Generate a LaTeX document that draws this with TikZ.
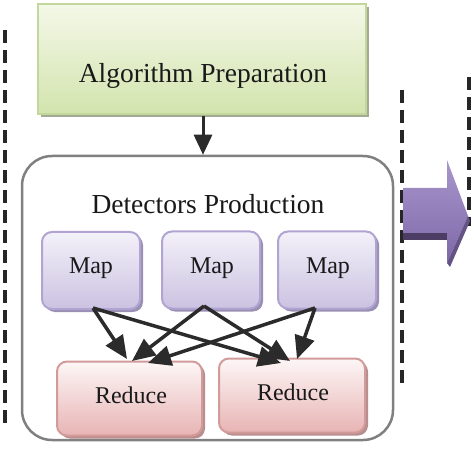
\documentclass[tikz,border=0pt]{standalone}
\usepackage{fontspec}
\setmainfont{Liberation Serif}
\usetikzlibrary{arrows.meta,shadows,calc}
\definecolor{gTop}{HTML}{F4F8E8}
\definecolor{gBot}{HTML}{D3E4AE}
\definecolor{gBorder}{HTML}{C3D69B}
\definecolor{gShadow}{HTML}{A4A994}
\definecolor{mTop}{HTML}{F3F1F9}
\definecolor{mBot}{HTML}{CBC2E1}
\definecolor{mBorder}{HTML}{B1A4D2}
\definecolor{mShadow}{HTML}{9A90B3}
\definecolor{rTop}{HTML}{FDF6F6}
\definecolor{rBot}{HTML}{E8B4B4}
\definecolor{rBorder}{HTML}{D39A9A}
\definecolor{rShadow}{HTML}{B88E8E}
\definecolor{contBorder}{HTML}{808080}
\definecolor{pTop}{HTML}{A896CC}
\definecolor{pBot}{HTML}{7E68A8}
\definecolor{pDark}{HTML}{4B3D63}
\definecolor{arrowCol}{HTML}{2B2B2B}
\tikzset{
  prepbox/.style={draw=gBorder, line width=2pt, top color=gTop, bottom color=gBot,
    minimum width=328pt, minimum height=110pt, inner sep=0pt,
    drop shadow={shadow xshift=3pt, shadow yshift=-3pt, fill=gShadow, opacity=1}},
  mapbox/.style={draw=mBorder, line width=2pt, top color=mTop, bottom color=mBot,
    rounded corners=10pt, minimum width=98pt, minimum height=77pt, inner sep=0pt,
    drop shadow={shadow xshift=3pt, shadow yshift=-3pt, fill=mShadow, opacity=1}},
  redbox/.style={draw=rBorder, line width=2pt, top color=rTop, bottom color=rBot,
    rounded corners=10pt, minimum height=74pt, inner sep=0pt,
    drop shadow={shadow xshift=3pt, shadow yshift=-3pt, fill=rShadow, opacity=1}},
  contbox/.style={draw=contBorder, line width=2.5pt, fill=white, rounded corners=30pt,
    minimum width=371pt, minimum height=284pt, inner sep=0pt},
  bigtxt/.style={font=\fontsize{27.5}{30}\selectfont, text=black!90, inner sep=0pt, anchor=base},
  boxtxt/.style={font=\fontsize{24}{26}\selectfont, text=black!90, inner sep=0pt, anchor=base},
  flow/.style={draw=arrowCol, line width=3pt, -{Triangle[length=20pt,width=18pt]}},
  mrflow/.style={draw=arrowCol, line width=3.5pt, -{Triangle[length=23pt,width=20pt]}},
  sep/.style={draw=black!85, line width=3.5pt, dash pattern=on 13pt off 7pt}
}
\begin{document}
\begin{tikzpicture}[x=1pt,y=-1pt]
\useasboundingbox (0,0) rectangle (474,449);
% dashed separators
\coordinate (l1) at (5,30); \coordinate (l2) at (5,424);
\coordinate (c1) at (402,90); \coordinate (c2) at (402,390);
\coordinate (r1) at (469,77); \coordinate (r2) at (469,226);
\draw[sep] (l1) -- (l2);
\draw[sep] (c1) -- (c2);
\draw[sep] (r1) -- (r2);
% purple arrow
\fill[pDark] (403,231) -- (447,231) -- (447,240) -- (403,240) -- cycle;
\shade[top color=pTop, bottom color=pBot] (403,188) -- (447,188) -- (447,160) -- (468,216) -- (447,263) -- (447,233) -- (403,233) -- cycle;
\fill[pBot!80!black] (468,216) -- (470,221) -- (450,267) -- (447,263) -- cycle;
% boxes
\node[prepbox] (prep) at (202,59) {};
\node[bigtxt] (preptxt) at (203,83) {Algorithm Preparation};
\node[contbox] (cont) at (207.5,298) {};
\node[bigtxt] (conttxt) at (208,214) {Detectors Production};
\node[mapbox] (map1) at (91,270.5) {};
\node[mapbox] (map2) at (211,270) {};
\node[mapbox] (map3) at (327,270) {};
\node[boxtxt] at (91,273) {Map};
\node[boxtxt] at (212,273) {Map};
\node[boxtxt] at (328,273) {Map};
\node[redbox, minimum width=145pt] (red1) at (129.5,398.5) {};
\node[redbox, minimum width=146pt] (red2) at (292,395.5) {};
\node[boxtxt] at (131,403) {Reduce};
\node[boxtxt] at (293,400) {Reduce};
% connectors
\coordinate (pa) at (203,116);
\draw[flow] (pa) -- (pa |- cont.north);
\coordinate (s1) at (93,308);
\coordinate (s2) at (204,306);
\coordinate (s3) at (315,308);
\coordinate (t11) at (127,359);
\coordinate (t21) at (132,361);
\coordinate (t31) at (148,363);
\coordinate (t12) at (281,363);
\coordinate (t22) at (290,361);
\coordinate (t32) at (297,359);
\draw[mrflow] (s1) -- (t11);
\draw[mrflow] (s1) -- (t12);
\draw[mrflow] (s2) -- (t21);
\draw[mrflow] (s2) -- (t22);
\draw[mrflow] (s3) -- (t31);
\draw[mrflow] (s3) -- (t32);
\end{tikzpicture}
\end{document}
